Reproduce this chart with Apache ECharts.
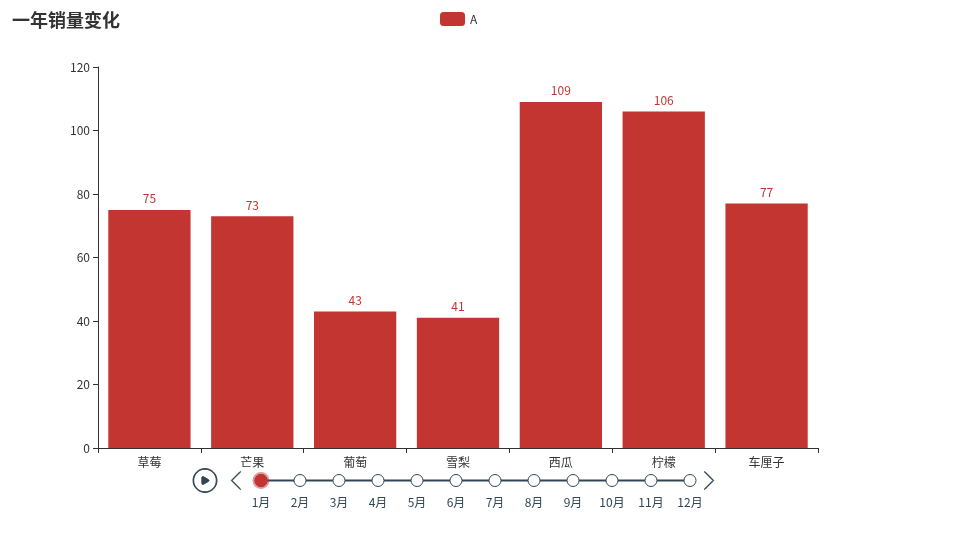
<!DOCTYPE html>
<html>
<head>
<meta charset="utf-8">
<script src="https://cdn.jsdelivr.net/npm/echarts@6/dist/echarts.min.js"></script>
<style>
  body { margin: 0; }
  #main { width: 953px; height: 537px; }
</style>
</head>
<body>
<div id="main"></div>
<script>
// fruits on x axis
var fruits = ['草莓', '芒果', '葡萄', '雪梨', '西瓜', '柠檬', '车厘子']
var months = ['1月', '2月', '3月', '4月', '5月', '6月', '7月', '8月', '9月', '10月', '11月', '12月']
// sales of January (the month shown)
var salesJan = [75, 73, 43, 41, 109, 106, 77]
var yTicks = { min: 0, max: 120, interval: 20 }

var chart = echarts.init(document.getElementById('main'))
var font = '"Noto Sans CJK SC", "Microsoft YaHei", sans-serif'

// older-style thin timeline icons
var playIcon = 'path://M31.6,53C17.5,53,6,41.5,6,27.4S17.5,1.8,31.6,1.8C45.7,1.8,57.2,13.3,57.2,27.4S45.7,53,31.6,53z M31.6,3.3 C18.4,3.3,7.5,14.1,7.5,27.4c0,13.3,10.8,24.1,24.1,24.1C44.9,51.5,55.7,40.7,55.7,27.4C55.7,14.1,44.9,3.3,31.6,3.3z M24.9,21.3 c0-2.2,1.6-3.1,3.5-2l10.5,6.1c1.9,1.1,1.9,2.9,0,4l-10.5,6.1c-1.9,1.1-3.5,0.2-3.5-2V21.3z'
var nextIcon = 'path://M18.6,50.8l22.5-22.5c0.2-0.2,0.3-0.4,0.3-0.7c0-0.3-0.1-0.5-0.3-0.7L18.7,4.4c-0.1-0.1-0.2-0.3-0.2-0.5 c0-0.4,0.3-0.8,0.8-0.8c0.2,0,0.5,0.1,0.6,0.3l23.5,23.5l0,0c0.2,0.2,0.3,0.4,0.3,0.7c0,0.3-0.1,0.5-0.3,0.7l-0.1,0.1L19.7,52 c-0.1,0.1-0.3,0.2-0.5,0.2c-0.4,0-0.8-0.3-0.8-0.8C18.4,51.2,18.5,51,18.6,50.8z'
var prevIcon = 'path://M43,52.8L20.4,30.3c-0.2-0.2-0.3-0.4-0.3-0.7c0-0.3,0.1-0.5,0.3-0.7L42.9,6.4c0.1-0.1,0.2-0.3,0.2-0.5 c0-0.4-0.3-0.8-0.8-0.8c-0.2,0-0.5,0.1-0.6,0.3L18.3,28.8l0,0c-0.2,0.2-0.3,0.4-0.3,0.7c0,0.3,0.1,0.5,0.3,0.7l0.1,0.1L41.9,54 c0.1,0.1,0.3,0.2,0.5,0.2c0.4,0,0.8-0.3,0.8-0.8C43.2,53.2,43.1,53,43,52.8z'

chart.setOption({
  baseOption: {
    textStyle: { fontFamily: font },
    timeline: {
      axisType: 'category',
      data: months,
      autoPlay: false,
      left: 178,
      right: 214,
      bottom: 14,
      height: 40,
      symbol: 'emptyCircle',
      symbolSize: 12,
      lineStyle: { color: '#304654', width: 2 },
      itemStyle: { color: '#fff', borderColor: '#304654', borderWidth: 1 },
      label: { color: '#304654', fontSize: 12, position: 'bottom' },
      checkpointStyle: {
        color: '#c23531',
        borderColor: 'rgba(194,53,49,0.5)',
        borderWidth: 4,
        symbolSize: 13,
        animation: false
      },
      controlStyle: {
        color: '#304654',
        borderColor: '#304654',
        borderWidth: 1,
        itemSize: 24,
        itemGap: 10,
        playIcon: playIcon,
        prevIcon: prevIcon,
        nextIcon: nextIcon,
        showPrevBtn: true,
        showNextBtn: true
      },
      progress: { lineStyle: { color: '#304654' }, itemStyle: { color: '#fff' } },
      emphasis: { itemStyle: { color: '#fff' } }
    },
    title: {
      text: '一年销量变化',
      left: 7,
      top: 6,
      textStyle: { fontSize: 18, fontWeight: 'bold', color: '#333', fontFamily: font }
    },
    legend: {
      data: ['A'],
      left: 435,
      top: 7,
      itemWidth: 25,
      itemHeight: 14,
      textStyle: { color: '#333', fontSize: 12 }
    },
    grid: { left: 98, right: 135, top: 67, bottom: 89 },
    xAxis: {
      type: 'category',
      data: fruits,
      axisLine: { show: true, lineStyle: { color: '#333' } },
      axisTick: { show: true, alignWithLabel: false },
      axisLabel: { color: '#333', fontSize: 12 }
    },
    yAxis: {
      type: 'value',
      min: yTicks.min,
      max: yTicks.max,
      interval: yTicks.interval,
      axisLine: { show: true, lineStyle: { color: '#333' } },
      axisTick: { show: true },
      axisLabel: { color: '#333', fontSize: 12 },
      splitLine: { show: false }
    },
    series: [{
      name: 'A',
      type: 'bar',
      barCategoryGap: '20%',
      itemStyle: { color: '#c23531' },
      label: { show: true, position: 'top', color: '#c23531', fontSize: 12 }
    }]
  },
  options: [
    { series: [{ data: salesJan }] }
  ]
})
</script>
</body>
</html>
